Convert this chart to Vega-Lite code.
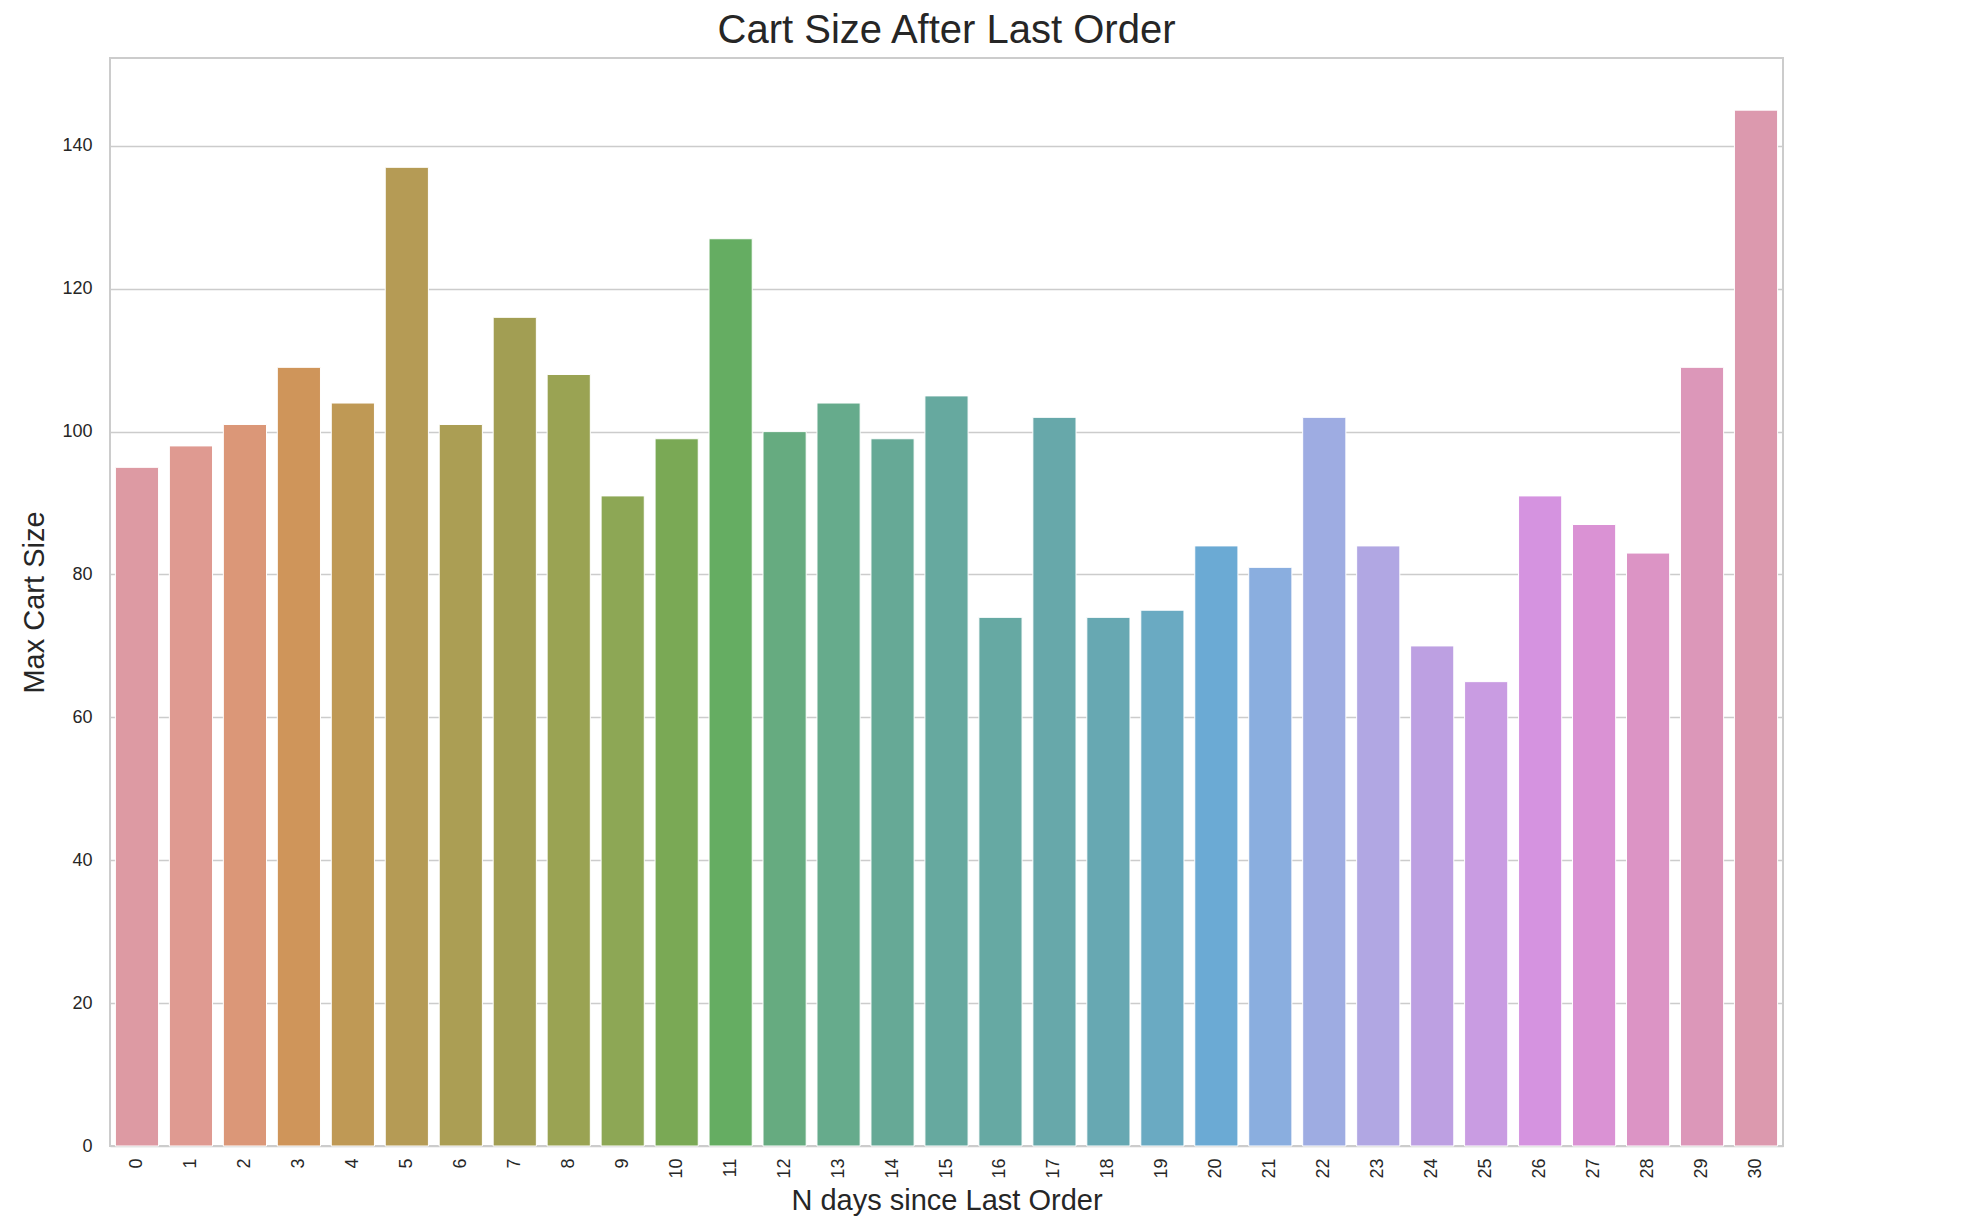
{
  "$schema": "https://vega.github.io/schema/vega-lite/v6.json",
  "autosize": {"type": "none"},
  "padding": {"left": 110, "top": 58, "right": 189, "bottom": 86},
  "width": 1673,
  "height": 1088,
  "background": "white",
  "title": {
    "text": "Cart Size After Last Order",
    "fontSize": 40,
    "font": "Liberation Sans",
    "fontWeight": "normal",
    "color": "#262626",
    "offset": 7
  },
  "data": {
    "values": [
      {"day": 0, "max_cart": 95},
      {"day": 1, "max_cart": 98},
      {"day": 2, "max_cart": 101},
      {"day": 3, "max_cart": 109},
      {"day": 4, "max_cart": 104},
      {"day": 5, "max_cart": 137},
      {"day": 6, "max_cart": 101},
      {"day": 7, "max_cart": 116},
      {"day": 8, "max_cart": 108},
      {"day": 9, "max_cart": 91},
      {"day": 10, "max_cart": 99},
      {"day": 11, "max_cart": 127},
      {"day": 12, "max_cart": 100},
      {"day": 13, "max_cart": 104},
      {"day": 14, "max_cart": 99},
      {"day": 15, "max_cart": 105},
      {"day": 16, "max_cart": 74},
      {"day": 17, "max_cart": 102},
      {"day": 18, "max_cart": 74},
      {"day": 19, "max_cart": 75},
      {"day": 20, "max_cart": 84},
      {"day": 21, "max_cart": 81},
      {"day": 22, "max_cart": 102},
      {"day": 23, "max_cart": 84},
      {"day": 24, "max_cart": 70},
      {"day": 25, "max_cart": 65},
      {"day": 26, "max_cart": 91},
      {"day": 27, "max_cart": 87},
      {"day": 28, "max_cart": 83},
      {"day": 29, "max_cart": 109},
      {"day": 30, "max_cart": 145}
    ]
  },
  "mark": {"type": "bar", "stroke": "white", "strokeWidth": 1},
  "encoding": {
    "x": {
      "field": "day",
      "type": "ordinal",
      "title": "N days since Last Order",
      "scale": {"paddingInner": 0.2, "paddingOuter": 0.1},
      "axis": {
        "labelAngle": -90,
        "labelAlign": "right",
        "labelBaseline": "middle",
        "labelPadding": 12,
        "titlePadding": 8
      }
    },
    "y": {
      "field": "max_cart",
      "type": "quantitative",
      "title": "Max Cart Size",
      "scale": {"domain": [0, 152.3], "nice": false, "zero": true},
      "axis": {
        "values": [0, 20, 40, 60, 80, 100, 120, 140],
        "labelPadding": 18,
        "titlePadding": 12,
        "grid": true
      }
    },
    "color": {
      "field": "day",
      "type": "ordinal",
      "legend": null,
      "scale": {
        "domain": [0,1,2,3,4,5,6,7,8,9,10,11,12,13,14,15,16,17,18,19,20,21,22,23,24,25,26,27,28,29,30],
        "range": ["#dd9aa3","#df9a91","#db9778","#cf955a","#bf9955","#b59b55","#ab9e54","#a29e53","#9aa353","#8da755","#7aa955","#65ad62","#66ab80","#66ab8c","#66a996","#66a99f","#66a9a3","#67a8aa","#67a8b2","#6aaac2","#6baad4","#8aaedf","#9eace2","#b1a7e3","#bda0e2","#c99ce2","#d593e0","#da92d4","#dc94c5","#dc97b9","#dc99ae"]
      }
    }
  },
  "config": {
    "font": "Liberation Sans",
    "view": {"stroke": "#cccccc", "strokeWidth": 2},
    "axis": {
      "domain": false,
      "ticks": false,
      "grid": false,
      "gridColor": "#cccccc",
      "gridWidth": 1.5,
      "labelFontSize": 18,
      "labelColor": "#262626",
      "labelFont": "Liberation Sans",
      "titleFontSize": 29,
      "titleFontWeight": "normal",
      "titleColor": "#262626",
      "titleFont": "Liberation Sans"
    }
  }
}
